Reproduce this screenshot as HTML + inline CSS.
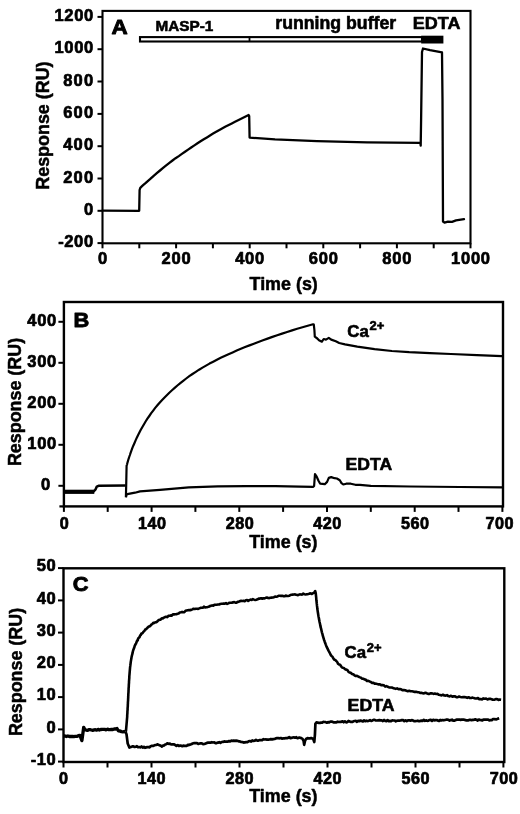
<!DOCTYPE html>
<html><head><meta charset="utf-8"><title>Figure</title>
<style>
html,body{margin:0;padding:0;background:#fff}
svg{display:block}
text{font-family:"Liberation Sans",Arial,Helvetica,sans-serif;font-weight:bold;fill:#000;stroke:#000;stroke-width:.7px;stroke-linejoin:round}
.tk{font-size:16.5px;letter-spacing:1.1px}
.ttl{font-size:17.9px;stroke-width:.5px}
.pl{font-size:20.5px;stroke-width:.9px}
.lb{font-size:16px;stroke-width:.6px}
</style></head><body>
<svg width="520" height="814" viewBox="0 0 520 814">
<rect width="520" height="814" fill="#fff"/>
<rect x="102.5" y="10.9" width="368.0" height="232.4" fill="none" stroke="#000" stroke-width="2.1"/>
<line x1="97.5" y1="243.1" x2="102.5" y2="243.1" stroke="#000" stroke-width="2"/>
<text class="tk" x="93.69999999999999" y="247.3" text-anchor="end" style="letter-spacing:0.6px">-200</text>
<line x1="97.5" y1="210.8" x2="102.5" y2="210.8" stroke="#000" stroke-width="2"/>
<text class="tk" x="94.19999999999999" y="215.0" text-anchor="end" style="letter-spacing:1.1px">0</text>
<line x1="97.5" y1="178.5" x2="102.5" y2="178.5" stroke="#000" stroke-width="2"/>
<text class="tk" x="94.19999999999999" y="182.7" text-anchor="end" style="letter-spacing:1.1px">200</text>
<line x1="97.5" y1="146.2" x2="102.5" y2="146.2" stroke="#000" stroke-width="2"/>
<text class="tk" x="94.19999999999999" y="150.4" text-anchor="end" style="letter-spacing:1.1px">400</text>
<line x1="97.5" y1="113.9" x2="102.5" y2="113.9" stroke="#000" stroke-width="2"/>
<text class="tk" x="94.19999999999999" y="118.1" text-anchor="end" style="letter-spacing:1.1px">600</text>
<line x1="97.5" y1="81.5" x2="102.5" y2="81.5" stroke="#000" stroke-width="2"/>
<text class="tk" x="94.19999999999999" y="85.7" text-anchor="end" style="letter-spacing:1.1px">800</text>
<line x1="97.5" y1="49.2" x2="102.5" y2="49.2" stroke="#000" stroke-width="2"/>
<text class="tk" x="93.69999999999999" y="53.4" text-anchor="end" style="letter-spacing:0.6px">1000</text>
<line x1="97.5" y1="16.9" x2="102.5" y2="16.9" stroke="#000" stroke-width="2"/>
<text class="tk" x="93.69999999999999" y="21.1" text-anchor="end" style="letter-spacing:0.6px">1200</text>
<line x1="102.5" y1="243.3" x2="102.5" y2="248.3" stroke="#000" stroke-width="2"/>
<text class="tk" x="102.9" y="263.5" text-anchor="middle" style="letter-spacing:.8px">0</text>
<line x1="139.3" y1="243.3" x2="139.3" y2="248.3" stroke="#000" stroke-width="2"/>
<line x1="176.1" y1="243.3" x2="176.1" y2="248.3" stroke="#000" stroke-width="2"/>
<text class="tk" x="176.5" y="263.5" text-anchor="middle" style="letter-spacing:.8px">200</text>
<line x1="212.9" y1="243.3" x2="212.9" y2="248.3" stroke="#000" stroke-width="2"/>
<line x1="249.7" y1="243.3" x2="249.7" y2="248.3" stroke="#000" stroke-width="2"/>
<text class="tk" x="250.1" y="263.5" text-anchor="middle" style="letter-spacing:.8px">400</text>
<line x1="286.5" y1="243.3" x2="286.5" y2="248.3" stroke="#000" stroke-width="2"/>
<line x1="323.3" y1="243.3" x2="323.3" y2="248.3" stroke="#000" stroke-width="2"/>
<text class="tk" x="323.7" y="263.5" text-anchor="middle" style="letter-spacing:.8px">600</text>
<line x1="360.1" y1="243.3" x2="360.1" y2="248.3" stroke="#000" stroke-width="2"/>
<line x1="396.9" y1="243.3" x2="396.9" y2="248.3" stroke="#000" stroke-width="2"/>
<text class="tk" x="397.3" y="263.5" text-anchor="middle" style="letter-spacing:.8px">800</text>
<line x1="433.7" y1="243.3" x2="433.7" y2="248.3" stroke="#000" stroke-width="2"/>
<line x1="470.5" y1="243.3" x2="470.5" y2="248.3" stroke="#000" stroke-width="2"/>
<text class="tk" x="470.9" y="263.5" text-anchor="middle" style="letter-spacing:.8px">1000</text>
<text class="ttl" x="283.7" y="289.7" text-anchor="middle">Time (s)</text>
<text class="ttl" transform="translate(49.2,125.6) rotate(-90)" text-anchor="middle">Response (RU)</text>
<text class="pl" x="111.4" y="34.4" textLength="16.2" lengthAdjust="spacingAndGlyphs">A</text>
<text class="lb" x="155.5" y="31.3" style="font-size:15.3px">MASP-1</text>
<text class="lb" x="275.3" y="29.3" style="font-size:17.7px">running buffer</text>
<text class="lb" x="412.8" y="29.1" style="font-size:17px" textLength="47.6" lengthAdjust="spacingAndGlyphs">EDTA</text>
<rect x="140" y="37.1" width="282" height="4.4" fill="#fff" stroke="#000" stroke-width="2.1"/>
<line x1="249.5" y1="36.5" x2="249.5" y2="42" stroke="#000" stroke-width="1.8"/>
<rect x="421.2" y="35.7" width="22.2" height="7.8" fill="#000"/>
<path d="M102.5,210.6 L139.2,210.8 L139.6,190.0 L140.3,187.8 L141.5,186.7 L143.1,185.2 L145.2,183.4 L147.5,181.3 L150.3,178.9 L153.4,176.1 L156.8,173.2 L160.0,170.5 L163.1,167.9 L166.2,165.4 L169.4,162.9 L172.5,160.5 L175.6,158.2 L178.8,156.1 L181.9,153.9 L185.0,151.8 L188.1,149.6 L191.2,147.5 L194.4,145.4 L197.5,143.3 L200.6,141.3 L203.8,139.3 L206.9,137.4 L210.0,135.5 L213.1,133.6 L216.2,131.8 L219.4,130.0 L222.5,128.3 L225.6,126.6 L228.7,125.0 L231.8,123.4 L235.0,121.8 L238.6,120.0 L242.6,118.0 L246.1,116.2 L248.6,115.0 L249.2,116.0 L249.6,137.6 L275.0,139.4 L317.0,141.2 L367.0,142.3 L420.4,142.9 L420.7,145.7 L421.1,120.0 L422.0,52.0 L423.0,48.5 L430.0,50.2 L442.0,52.4 L442.5,100.0 L443.0,221.5 L444.5,222.6 L448.0,221.6 L452.0,221.8 L456.0,220.4 L464.0,219.2" fill="none" stroke="#000" stroke-width="2.3" stroke-linejoin="round" stroke-linecap="round"/>
<rect x="63.9" y="302" width="439.1" height="204.39999999999998" fill="none" stroke="#000" stroke-width="2.4"/>
<line x1="58.4" y1="485.8" x2="63.9" y2="485.8" stroke="#000" stroke-width="2"/>
<text class="tk" x="51.0" y="489.5" text-anchor="end" style="letter-spacing:.75px">0</text>
<line x1="58.4" y1="444.8" x2="63.9" y2="444.8" stroke="#000" stroke-width="2"/>
<text class="tk" x="57.0" y="448.5" text-anchor="end" style="letter-spacing:.75px">100</text>
<line x1="58.4" y1="403.8" x2="63.9" y2="403.8" stroke="#000" stroke-width="2"/>
<text class="tk" x="57.0" y="407.5" text-anchor="end" style="letter-spacing:.75px">200</text>
<line x1="58.4" y1="362.8" x2="63.9" y2="362.8" stroke="#000" stroke-width="2"/>
<text class="tk" x="57.0" y="366.5" text-anchor="end" style="letter-spacing:.75px">300</text>
<line x1="58.4" y1="321.8" x2="63.9" y2="321.8" stroke="#000" stroke-width="2"/>
<text class="tk" x="57.0" y="325.5" text-anchor="end" style="letter-spacing:.75px">400</text>
<line x1="63.9" y1="506.4" x2="63.9" y2="511.9" stroke="#000" stroke-width="2"/>
<text class="tk" x="64.5" y="529.0" text-anchor="middle" style="letter-spacing:.5px;font-size:16.2px">0</text>
<line x1="107.7" y1="506.4" x2="107.7" y2="511.9" stroke="#000" stroke-width="2"/>
<line x1="151.6" y1="506.4" x2="151.6" y2="511.9" stroke="#000" stroke-width="2"/>
<text class="tk" x="152.2" y="529.0" text-anchor="middle" style="letter-spacing:.5px;font-size:16.2px">140</text>
<line x1="195.4" y1="506.4" x2="195.4" y2="511.9" stroke="#000" stroke-width="2"/>
<line x1="239.3" y1="506.4" x2="239.3" y2="511.9" stroke="#000" stroke-width="2"/>
<text class="tk" x="239.9" y="529.0" text-anchor="middle" style="letter-spacing:.5px;font-size:16.2px">280</text>
<line x1="283.1" y1="506.4" x2="283.1" y2="511.9" stroke="#000" stroke-width="2"/>
<line x1="327.0" y1="506.4" x2="327.0" y2="511.9" stroke="#000" stroke-width="2"/>
<text class="tk" x="327.6" y="529.0" text-anchor="middle" style="letter-spacing:.5px;font-size:16.2px">420</text>
<line x1="370.8" y1="506.4" x2="370.8" y2="511.9" stroke="#000" stroke-width="2"/>
<line x1="414.7" y1="506.4" x2="414.7" y2="511.9" stroke="#000" stroke-width="2"/>
<text class="tk" x="415.3" y="529.0" text-anchor="middle" style="letter-spacing:.5px;font-size:16.2px">560</text>
<line x1="458.5" y1="506.4" x2="458.5" y2="511.9" stroke="#000" stroke-width="2"/>
<line x1="502.4" y1="506.4" x2="502.4" y2="511.9" stroke="#000" stroke-width="2"/>
<text class="tk" x="499.8" y="529.0" text-anchor="middle" style="letter-spacing:.5px;font-size:16.2px">700</text>
<line x1="59.4" y1="506.4" x2="63.9" y2="506.4" stroke="#000" stroke-width="2.2"/>
<text class="ttl" x="283.4" y="547.8" text-anchor="middle">Time (s)</text>
<text class="ttl" transform="translate(20.6,402) rotate(-90)" text-anchor="middle">Response (RU)</text>
<text class="pl" x="73.6" y="327" textLength="15.8" lengthAdjust="spacingAndGlyphs">B</text>
<text class="lb" x="347.3" y="336.8" style="font-size:16.8px">Ca<tspan dx="0.8" dy="-6.6" style="font-size:13px">2+</tspan></text>
<text class="lb" x="345.6" y="469.6" style="font-size:17px" textLength="46.6" lengthAdjust="spacingAndGlyphs">EDTA</text>
<path d="M63.9,491.8 L94.3,491.8" fill="none" stroke="#000" stroke-width="4.2"/>
<path d="M93.5,491.8 L95.5,489.5 L96.8,486.6 L98.5,485.8 L125.6,485.6" fill="none" stroke="#000" stroke-width="2.5" stroke-linejoin="round"/>
<path d="M125.9,497.3 L126.2,485.0 L126.6,465.6 L126.7,465.6 L126.7,465.4 L126.9,464.9 L127.1,464.2 L127.3,463.2 L127.7,461.9 L128.1,460.5 L128.6,458.8 L129.2,457.0 L129.9,455.0 L130.6,452.8 L131.4,450.6 L132.3,448.2 L133.3,445.7 L134.4,443.2 L135.5,440.6 L136.7,437.9 L138.0,435.2 L139.4,432.5 L140.8,429.8 L142.4,427.0 L144.0,424.2 L145.6,421.5 L147.4,418.7 L149.3,416.0 L151.2,413.2 L153.2,410.6 L155.2,407.9 L157.4,405.3 L159.6,402.7 L161.9,400.2 L164.3,397.7 L166.8,395.2 L169.3,392.7 L172.0,390.3 L174.7,387.9 L177.4,385.5 L180.3,383.1 L183.2,380.8 L186.2,378.5 L189.3,376.2 L192.5,374.0 L195.8,371.9 L199.1,369.7 L202.5,367.6 L206.0,365.6 L209.5,363.6 L213.2,361.7 L216.9,359.7 L220.7,357.8 L224.6,356.0 L228.5,354.2 L232.6,352.4 L236.7,350.6 L240.9,348.8 L245.1,347.1 L249.5,345.4 L253.9,343.7 L258.4,342.0 L263.0,340.3 L267.6,338.6 L272.4,336.9 L277.2,335.3 L282.1,333.6 L287.1,332.0 L292.1,330.4 L297.2,328.8 L302.5,327.3 L307.7,325.8 L313.1,324.3 L313.8,324.6 L314.4,330.0 L314.8,336.7 L317.3,338.5 L319.0,340.2 L321.9,341.7 L323.7,339.0 L326.0,339.6 L328.8,337.9 L331.2,339.6 L335.8,341.3 L339.2,343.0 L345.0,344.4 L357.3,346.6 L374.6,349.2 L391.9,351.0 L409.2,352.2 L430.0,353.1 L451.0,354.0 L477.0,355.2 L502.0,356.1" fill="none" stroke="#000" stroke-width="2.2" stroke-linejoin="round"/>
<path d="M126.0,497.3 L126.6,494.6 L127.3,494.2 L135.0,492.7 L140.0,491.4 L160.0,489.8 L188.8,487.4 L217.7,486.4 L246.5,486.1 L275.4,486.1 L300.0,486.7 L313.3,486.8 L314.1,486.0 L315.0,474.1 L316.7,476.7 L318.5,480.8 L320.2,483.7 L324.8,484.2 L327.1,481.9 L328.8,477.9 L331.2,477.1 L334.6,478.2 L336.9,478.5 L339.8,480.2 L341.5,483.1 L343.3,484.5 L346.2,483.7 L350.8,483.7 L355.4,484.8 L360.0,484.9 L370.8,485.8 L410.0,486.5 L460.0,487.0 L502.0,487.3" fill="none" stroke="#000" stroke-width="2.2" stroke-linejoin="round"/>
<rect x="63.5" y="568.3" width="440.8" height="193.70000000000005" fill="none" stroke="#000" stroke-width="2.4"/>
<line x1="58.0" y1="761.6" x2="63.5" y2="761.6" stroke="#000" stroke-width="2"/>
<text class="tk" x="56.3" y="764.8" text-anchor="end" style="letter-spacing:.6px">-10</text>
<line x1="58.0" y1="729.4" x2="63.5" y2="729.4" stroke="#000" stroke-width="2"/>
<text class="tk" x="56.3" y="732.5" text-anchor="end" style="letter-spacing:.6px">0</text>
<line x1="58.0" y1="697.1" x2="63.5" y2="697.1" stroke="#000" stroke-width="2"/>
<text class="tk" x="56.3" y="700.2" text-anchor="end" style="letter-spacing:.6px">10</text>
<line x1="58.0" y1="664.9" x2="63.5" y2="664.9" stroke="#000" stroke-width="2"/>
<text class="tk" x="56.3" y="668.0" text-anchor="end" style="letter-spacing:.6px">20</text>
<line x1="58.0" y1="632.6" x2="63.5" y2="632.6" stroke="#000" stroke-width="2"/>
<text class="tk" x="56.3" y="635.8" text-anchor="end" style="letter-spacing:.6px">30</text>
<line x1="58.0" y1="600.4" x2="63.5" y2="600.4" stroke="#000" stroke-width="2"/>
<text class="tk" x="56.3" y="603.5" text-anchor="end" style="letter-spacing:.6px">40</text>
<line x1="58.0" y1="568.1" x2="63.5" y2="568.1" stroke="#000" stroke-width="2"/>
<text class="tk" x="56.3" y="571.2" text-anchor="end" style="letter-spacing:.6px">50</text>
<line x1="63.5" y1="762" x2="63.5" y2="767.5" stroke="#000" stroke-width="2"/>
<text class="tk" x="63.8" y="783.8" text-anchor="middle" style="letter-spacing:.5px;font-size:16.2px">0</text>
<line x1="107.5" y1="762" x2="107.5" y2="767.5" stroke="#000" stroke-width="2"/>
<line x1="151.5" y1="762" x2="151.5" y2="767.5" stroke="#000" stroke-width="2"/>
<text class="tk" x="151.8" y="783.8" text-anchor="middle" style="letter-spacing:.5px;font-size:16.2px">140</text>
<line x1="195.5" y1="762" x2="195.5" y2="767.5" stroke="#000" stroke-width="2"/>
<line x1="239.5" y1="762" x2="239.5" y2="767.5" stroke="#000" stroke-width="2"/>
<text class="tk" x="239.8" y="783.8" text-anchor="middle" style="letter-spacing:.5px;font-size:16.2px">280</text>
<line x1="283.5" y1="762" x2="283.5" y2="767.5" stroke="#000" stroke-width="2"/>
<line x1="327.5" y1="762" x2="327.5" y2="767.5" stroke="#000" stroke-width="2"/>
<text class="tk" x="327.8" y="783.8" text-anchor="middle" style="letter-spacing:.5px;font-size:16.2px">420</text>
<line x1="371.5" y1="762" x2="371.5" y2="767.5" stroke="#000" stroke-width="2"/>
<line x1="415.5" y1="762" x2="415.5" y2="767.5" stroke="#000" stroke-width="2"/>
<text class="tk" x="415.8" y="783.8" text-anchor="middle" style="letter-spacing:.5px;font-size:16.2px">560</text>
<line x1="459.5" y1="762" x2="459.5" y2="767.5" stroke="#000" stroke-width="2"/>
<line x1="503.4" y1="762" x2="503.4" y2="767.5" stroke="#000" stroke-width="2"/>
<text class="tk" x="504.1" y="783.8" text-anchor="middle" style="letter-spacing:.5px;font-size:16.2px">700</text>
<text class="ttl" x="283.4" y="802.2" text-anchor="middle">Time (s)</text>
<text class="ttl" transform="translate(22.3,672) rotate(-90)" text-anchor="middle">Response (RU)</text>
<text class="pl" x="72.8" y="591.3" textLength="15.8" lengthAdjust="spacingAndGlyphs">C</text>
<text class="lb" x="344.6" y="658" style="font-size:16.8px">Ca<tspan dx="0.8" dy="-6.0" style="font-size:13px">2+</tspan></text>
<text class="lb" x="347.6" y="711" style="font-size:17px" textLength="46.8" lengthAdjust="spacingAndGlyphs">EDTA</text>
<path d="M63.5,736.0 L65.0,736.0 L66.4,736.5 L67.9,736.0 L69.3,736.5 L70.8,736.5 L72.3,736.3 L73.7,736.7 L75.2,736.4 L76.8,736.4 L78.3,735.7 L79.9,735.4 L81.9,740.6 L82.8,734.0 L83.7,727.3 L84.8,729.4 L86.0,730.0 L87.3,730.4 L88.7,729.7 L90.0,729.7 L91.4,730.0 L92.7,730.3 L94.1,729.9 L95.4,729.7 L96.7,730.2 L98.1,729.3 L99.4,730.0 L100.8,729.5 L102.1,729.3 L103.4,729.3 L104.8,729.4 L106.1,729.8 L107.5,729.2 L108.8,729.6 L110.2,729.6 L111.5,729.3 L112.9,729.5 L114.2,729.0 L115.6,729.0 L117.0,728.5 L117.8,730.0 L118.5,730.8 L120.0,731.0 L121.5,731.6 L123.0,731.8 L124.2,731.5 L125.5,731.9" fill="none" stroke="#000" stroke-width="3.3" stroke-linejoin="round"/>
<path d="M125.5,731.4 L126.0,730.8 L126.1,729.6 L126.2,728.4 L126.3,727.2 L126.4,726.0 L126.5,724.9 L126.6,723.7 L126.7,722.5 L126.8,721.3 L126.9,720.1 L127.0,718.9 L127.1,717.8 L127.2,716.6 L127.2,715.4 L127.3,714.2 L127.4,713.1 L127.4,711.9 L127.5,710.7 L127.6,709.6 L127.6,708.4 L127.7,707.2 L127.8,706.1 L127.8,704.9 L127.9,703.7 L127.9,702.6 L128.0,701.4 L128.1,700.2 L128.1,699.1 L128.2,697.9 L128.2,696.7 L128.3,695.6 L128.3,694.4 L128.4,693.2 L128.5,692.0 L128.5,690.9 L128.6,689.7 L128.6,688.5 L128.7,687.4 L128.8,686.2 L128.8,685.0 L128.9,683.8 L129.0,682.6 L129.0,681.5 L129.1,680.3 L129.2,679.1 L129.3,677.9 L129.3,676.7 L129.4,675.5 L129.5,674.3 L129.6,673.1 L129.7,671.9 L129.8,670.7 L129.9,669.5 L130.0,668.3 L130.1,667.1 L130.3,665.9 L130.4,664.7 L130.6,663.5 L130.7,662.3 L130.9,661.1 L131.1,659.9 L131.3,658.7 L131.5,657.6 L131.7,656.4 L132.0,655.2 L132.3,654.1 L132.6,652.9 L132.8,651.8 L133.1,650.6 L133.5,649.5 L133.9,648.4 L134.3,647.5 L134.7,645.9 L135.1,645.2 L135.6,644.1 L136.1,643.4 L136.5,642.2 L137.1,640.6 L137.7,640.5 L138.2,638.4 L138.8,637.8 L139.5,637.2 L140.1,635.6 L140.8,635.0 L141.4,633.5 L142.2,633.4 L142.9,632.6 L143.7,631.5 L144.4,631.0 L145.2,629.5 L146.1,629.2 L146.9,628.3 L147.7,627.5 L148.6,626.6 L149.5,626.4 L150.4,625.8 L151.4,624.5 L152.4,624.1 L153.3,622.8 L154.3,622.9 L155.3,622.2 L156.4,622.1 L157.4,621.4 L158.5,620.2 L159.5,619.8 L160.6,619.6 L161.7,618.4 L162.8,618.4 L163.9,617.6 L165.0,617.1 L166.2,616.7 L167.3,617.1 L168.4,615.9 L169.5,615.7 L170.7,615.4 L171.8,615.6 L172.9,614.3 L174.1,614.4 L175.2,614.2 L176.4,614.2 L177.5,613.8 L178.6,613.5 L179.8,612.5 L180.9,612.3 L182.1,611.9 L183.2,612.3 L184.3,612.1 L185.5,610.8 L186.6,610.5 L187.8,610.3 L188.9,610.1 L190.1,610.1 L191.2,609.9 L192.4,609.3 L193.5,608.7 L194.7,609.0 L195.8,608.7 L197.0,608.7 L198.2,608.9 L199.3,608.4 L200.5,607.9 L201.6,607.8 L202.8,607.7 L203.9,606.7 L205.1,607.5 L206.3,607.2 L207.4,607.1 L208.6,606.8 L209.7,606.1 L210.9,605.9 L212.1,605.4 L213.2,605.8 L214.4,604.9 L215.6,604.8 L216.7,604.7 L217.9,604.5 L219.1,604.5 L220.2,604.0 L221.4,603.8 L222.6,603.8 L223.7,603.5 L224.9,603.7 L226.0,603.1 L227.2,603.9 L228.4,603.4 L229.5,602.7 L230.7,602.7 L231.9,602.6 L233.0,602.4 L234.2,602.0 L235.4,602.7 L236.5,602.7 L237.7,601.9 L238.9,601.7 L240.0,601.1 L241.2,600.9 L242.4,601.0 L243.6,600.8 L244.7,601.3 L245.9,600.3 L247.1,600.0 L248.2,600.9 L249.4,600.2 L250.6,599.6 L251.7,599.9 L252.9,599.1 L254.1,599.6 L255.2,600.0 L256.4,599.7 L257.6,599.3 L258.7,598.6 L259.9,598.6 L261.1,598.2 L262.3,598.7 L263.4,598.3 L264.6,598.4 L265.8,597.8 L266.9,597.5 L268.1,598.0 L269.3,598.1 L270.4,597.8 L271.6,597.6 L272.8,597.5 L274.0,597.2 L275.1,596.5 L276.3,596.7 L277.5,596.4 L278.6,595.8 L279.8,595.7 L281.0,595.9 L282.2,595.7 L283.3,596.1 L284.5,596.3 L285.7,595.6 L286.9,596.0 L288.0,596.0 L289.2,595.8 L290.4,595.0 L291.6,594.7 L292.7,594.6 L293.9,594.5 L295.1,594.4 L296.3,594.8 L297.4,595.1 L298.6,594.9 L299.8,594.4 L301.0,594.5 L302.1,594.6 L303.3,593.6 L304.5,594.3 L305.7,594.5 L306.8,594.3 L308.0,594.1 L309.2,593.8 L310.4,593.3 L311.6,594.0 L312.7,593.4 L314.2,592.6 L315.2,591.0 L315.7,593.0 L316.2,597.7 L316.3,599.1 L316.4,600.5 L316.6,601.8 L316.7,603.2 L316.9,604.5 L317.0,605.9 L317.2,607.2 L317.3,608.5 L317.5,609.9 L317.7,611.2 L317.9,612.5 L318.1,613.8 L318.3,615.1 L318.5,616.4 L318.8,617.8 L319.0,619.1 L319.3,620.4 L319.5,621.7 L319.8,623.0 L320.1,624.3 L320.3,625.6 L320.6,627.0 L321.0,628.3 L321.3,629.6 L321.6,631.0 L321.9,632.3 L322.3,633.7 L322.6,634.7 L322.8,635.7 L323.1,636.7 L323.4,637.7 L323.7,638.7 L324.0,639.7 L324.4,640.7 L324.7,641.7 L325.2,643.0 L325.7,644.4 L326.2,645.7 L326.7,646.9 L327.3,648.2 L327.9,649.4 L328.5,650.6 L329.2,651.8 L329.8,653.0 L330.5,654.5 L331.3,655.8 L332.0,656.3 L332.8,657.3 L333.7,659.0 L334.5,659.8 L335.4,660.1 L336.3,661.0 L337.2,662.0 L338.1,663.8 L339.1,664.6 L340.1,664.8 L341.1,666.4 L342.1,667.5 L343.2,667.9 L344.2,668.3 L345.3,669.4 L346.4,669.6 L347.5,670.2 L348.7,672.1 L349.8,672.5 L351.0,673.0 L352.2,674.2 L353.3,674.2 L354.5,675.4 L355.7,676.0 L357.0,675.8 L358.2,676.5 L359.4,677.1 L360.7,677.6 L361.9,678.6 L363.2,678.7 L364.4,679.4 L365.7,679.6 L367.0,681.0 L368.3,680.8 L369.5,681.4 L370.8,682.0 L372.1,682.9 L373.4,682.7 L374.7,683.7 L376.0,683.6 L377.3,684.1 L378.6,684.4 L379.9,684.2 L381.2,685.1 L382.5,685.1 L383.8,685.3 L385.2,686.6 L386.5,686.1 L387.8,686.8 L389.1,687.4 L390.4,687.5 L391.8,687.5 L393.1,688.0 L394.4,688.4 L395.8,688.9 L397.1,688.4 L398.4,689.1 L399.8,689.0 L401.1,689.3 L402.4,690.1 L403.8,690.0 L405.1,690.3 L406.5,690.8 L407.8,691.2 L409.2,690.8 L410.5,691.2 L411.9,691.3 L413.2,691.5 L414.6,691.9 L415.9,691.8 L417.3,692.1 L418.6,692.2 L420.0,692.9 L421.3,692.8 L422.7,693.2 L424.0,693.4 L425.4,692.7 L426.7,693.3 L428.1,693.9 L429.4,693.9 L430.8,693.2 L432.1,693.4 L433.5,693.9 L434.8,693.6 L436.2,694.0 L437.5,693.9 L438.9,694.8 L440.2,695.1 L441.6,695.4 L442.9,694.7 L444.3,695.5 L445.6,695.6 L447.0,695.1 L448.3,696.1 L449.7,696.4 L451.0,695.7 L452.4,696.7 L453.7,696.2 L455.1,696.4 L456.4,697.2 L457.8,697.1 L459.1,696.5 L460.4,696.9 L461.8,697.2 L463.1,697.1 L464.5,697.1 L465.8,697.3 L467.2,697.9 L468.5,697.2 L469.9,698.0 L471.2,698.0 L472.6,697.6 L473.9,698.1 L475.3,698.5 L476.6,698.5 L478.0,698.0 L479.3,699.2 L480.7,699.1 L482.0,699.4 L483.4,698.4 L484.8,698.7 L486.1,698.5 L487.5,699.5 L488.8,698.9 L490.2,698.8 L491.6,699.2 L492.9,699.8 L494.3,699.7 L495.7,699.1 L497.0,699.0 L498.4,699.9 L499.8,699.5 L501.1,699.7" fill="none" stroke="#000" stroke-width="2.6" stroke-linejoin="round"/>
<path d="M125.5,731.8 L126.5,734.2 L127.7,743.5 L129.4,747.5 L132.3,746.4 L133.4,746.3 L134.6,747.0 L135.7,746.7 L136.9,746.2 L138.0,747.2 L139.2,747.0 L140.3,747.3 L141.5,746.5 L142.7,747.6 L143.9,746.8 L145.0,747.8 L146.2,747.4 L147.3,747.1 L148.5,747.1 L149.6,747.3 L150.7,746.2 L151.9,745.8 L153.0,746.0 L154.2,745.4 L155.3,745.0 L156.5,744.8 L157.7,744.4 L158.8,744.9 L159.8,745.4 L160.9,745.7 L162.0,746.6 L163.1,745.6 L164.1,745.4 L165.2,744.5 L166.2,744.3 L167.3,743.4 L168.6,743.8 L169.9,743.6 L171.2,744.5 L172.5,744.4 L173.8,744.3 L175.1,744.9 L176.4,745.8 L177.7,745.1 L178.8,746.0 L180.0,745.6 L181.1,745.7 L182.3,746.2 L183.4,745.7 L184.6,745.9 L185.7,745.8 L186.8,745.9 L187.9,744.8 L188.9,745.1 L190.0,744.6 L191.1,744.3 L192.2,743.7 L193.3,743.3 L194.5,743.0 L195.8,743.2 L197.0,743.2 L198.2,744.0 L199.4,743.5 L200.7,743.4 L201.9,743.4 L203.1,744.1 L204.4,744.0 L205.6,743.5 L206.9,742.9 L208.1,742.7 L209.4,742.5 L210.6,742.6 L211.8,742.2 L213.1,742.5 L214.3,742.3 L215.5,743.1 L216.7,743.1 L218.0,742.6 L219.2,742.2 L220.4,742.9 L221.7,742.0 L222.9,741.9 L224.2,741.4 L225.4,741.7 L226.7,741.7 L227.9,741.6 L229.1,741.1 L230.2,741.4 L231.4,740.7 L232.5,740.9 L233.7,740.6 L234.8,740.9 L236.1,740.6 L237.3,740.8 L238.6,741.3 L239.9,741.4 L241.2,742.0 L242.4,742.1 L243.7,742.6 L244.9,742.3 L246.2,742.1 L247.4,742.1 L248.6,741.3 L249.8,741.0 L251.1,741.6 L252.3,740.4 L253.5,740.9 L254.8,740.7 L256.0,739.8 L257.3,740.6 L258.5,740.6 L259.8,740.1 L261.0,740.1 L262.2,740.1 L263.5,739.2 L264.7,739.5 L265.9,739.4 L267.1,739.7 L268.4,739.6 L269.6,739.5 L270.8,739.1 L272.1,739.4 L273.3,739.1 L274.6,739.0 L275.8,738.4 L277.1,738.1 L278.3,738.2 L279.5,738.3 L280.8,738.0 L282.0,738.7 L283.2,738.3 L284.4,738.3 L285.7,738.2 L286.9,738.2 L288.0,737.9 L289.2,737.2 L290.4,738.1 L291.5,737.9 L292.6,737.5 L293.8,737.4 L295.0,737.7 L296.3,737.2 L297.5,738.2 L298.8,737.7 L300.0,737.7 L301.3,738.1 L302.5,738.8 L303.6,741.0 L304.2,744.8 L305.0,741.0 L306.0,739.0 L307.5,738.2 L308.7,738.4 L310.0,738.4 L311.2,738.0 L313.2,739.0 L314.3,742.0 L314.9,735.0 L315.4,723.8 L316.5,722.4 L317.6,722.6 L318.8,722.8 L319.9,722.9 L321.1,722.7 L322.2,722.7 L323.4,721.9 L324.6,722.0 L325.7,722.1 L326.9,722.7 L328.0,722.1 L329.2,722.4 L330.4,721.7 L331.6,721.7 L332.8,721.9 L334.0,722.4 L335.2,722.3 L336.5,722.3 L337.7,721.7 L338.9,722.0 L340.1,721.9 L341.3,721.8 L342.5,721.3 L343.7,722.3 L344.9,721.3 L346.1,722.3 L347.3,722.2 L348.5,720.9 L349.8,721.4 L351.0,721.9 L352.2,722.0 L353.4,721.3 L354.6,721.0 L355.8,720.9 L357.0,721.8 L358.2,720.8 L359.4,721.2 L360.5,720.5 L361.7,721.0 L362.9,721.5 L364.1,720.3 L365.3,721.2 L366.5,720.7 L367.6,721.1 L368.8,720.8 L370.0,720.2 L371.2,721.0 L372.3,720.5 L373.5,719.9 L374.7,719.9 L375.9,720.5 L377.0,720.5 L378.2,720.3 L379.4,720.1 L380.6,720.4 L381.7,720.3 L382.9,721.0 L384.1,720.0 L385.3,720.9 L386.4,721.1 L387.6,720.1 L388.8,721.2 L390.0,720.9 L391.1,721.2 L392.3,720.4 L393.5,720.5 L394.7,720.5 L395.8,721.3 L397.0,720.8 L398.2,720.5 L399.4,720.6 L400.7,720.4 L401.9,720.1 L403.1,720.1 L404.3,721.1 L405.5,720.4 L406.7,721.2 L408.0,720.3 L409.2,720.3 L410.4,720.6 L411.6,720.2 L412.8,720.4 L414.1,721.2 L415.3,721.1 L416.5,721.0 L417.7,720.7 L418.9,721.1 L420.1,721.1 L421.4,720.6 L422.6,720.8 L423.8,719.9 L425.0,720.8 L426.1,720.4 L427.3,720.8 L428.5,720.6 L429.7,720.1 L430.8,719.8 L432.0,720.9 L433.2,719.9 L434.4,720.3 L435.5,720.1 L436.7,720.0 L437.9,720.6 L439.1,720.9 L440.2,719.9 L441.4,720.4 L442.6,720.0 L443.8,720.3 L444.9,720.0 L446.1,719.7 L447.3,719.7 L448.5,719.8 L449.6,720.6 L450.8,720.1 L452.0,719.7 L453.2,720.6 L454.5,720.7 L455.7,720.0 L456.9,719.6 L458.1,719.7 L459.4,719.5 L460.6,719.9 L461.8,719.5 L463.0,719.7 L464.2,719.7 L465.5,720.1 L466.7,720.5 L467.9,720.4 L469.1,719.9 L470.4,719.9 L471.6,720.1 L472.8,719.9 L474.0,719.8 L475.3,719.4 L476.5,719.7 L477.7,720.6 L478.9,719.5 L480.0,720.0 L481.2,720.1 L482.4,720.4 L483.5,719.5 L484.7,719.6 L485.9,719.5 L487.0,719.7 L488.2,719.7 L489.3,720.4 L490.5,720.2 L491.7,720.2 L492.8,719.1 L494.0,719.1 L496.5,719.4 L498.0,718.6 L499.2,718.2" fill="none" stroke="#000" stroke-width="2.7" stroke-linejoin="round"/>
</svg>
</body></html>
